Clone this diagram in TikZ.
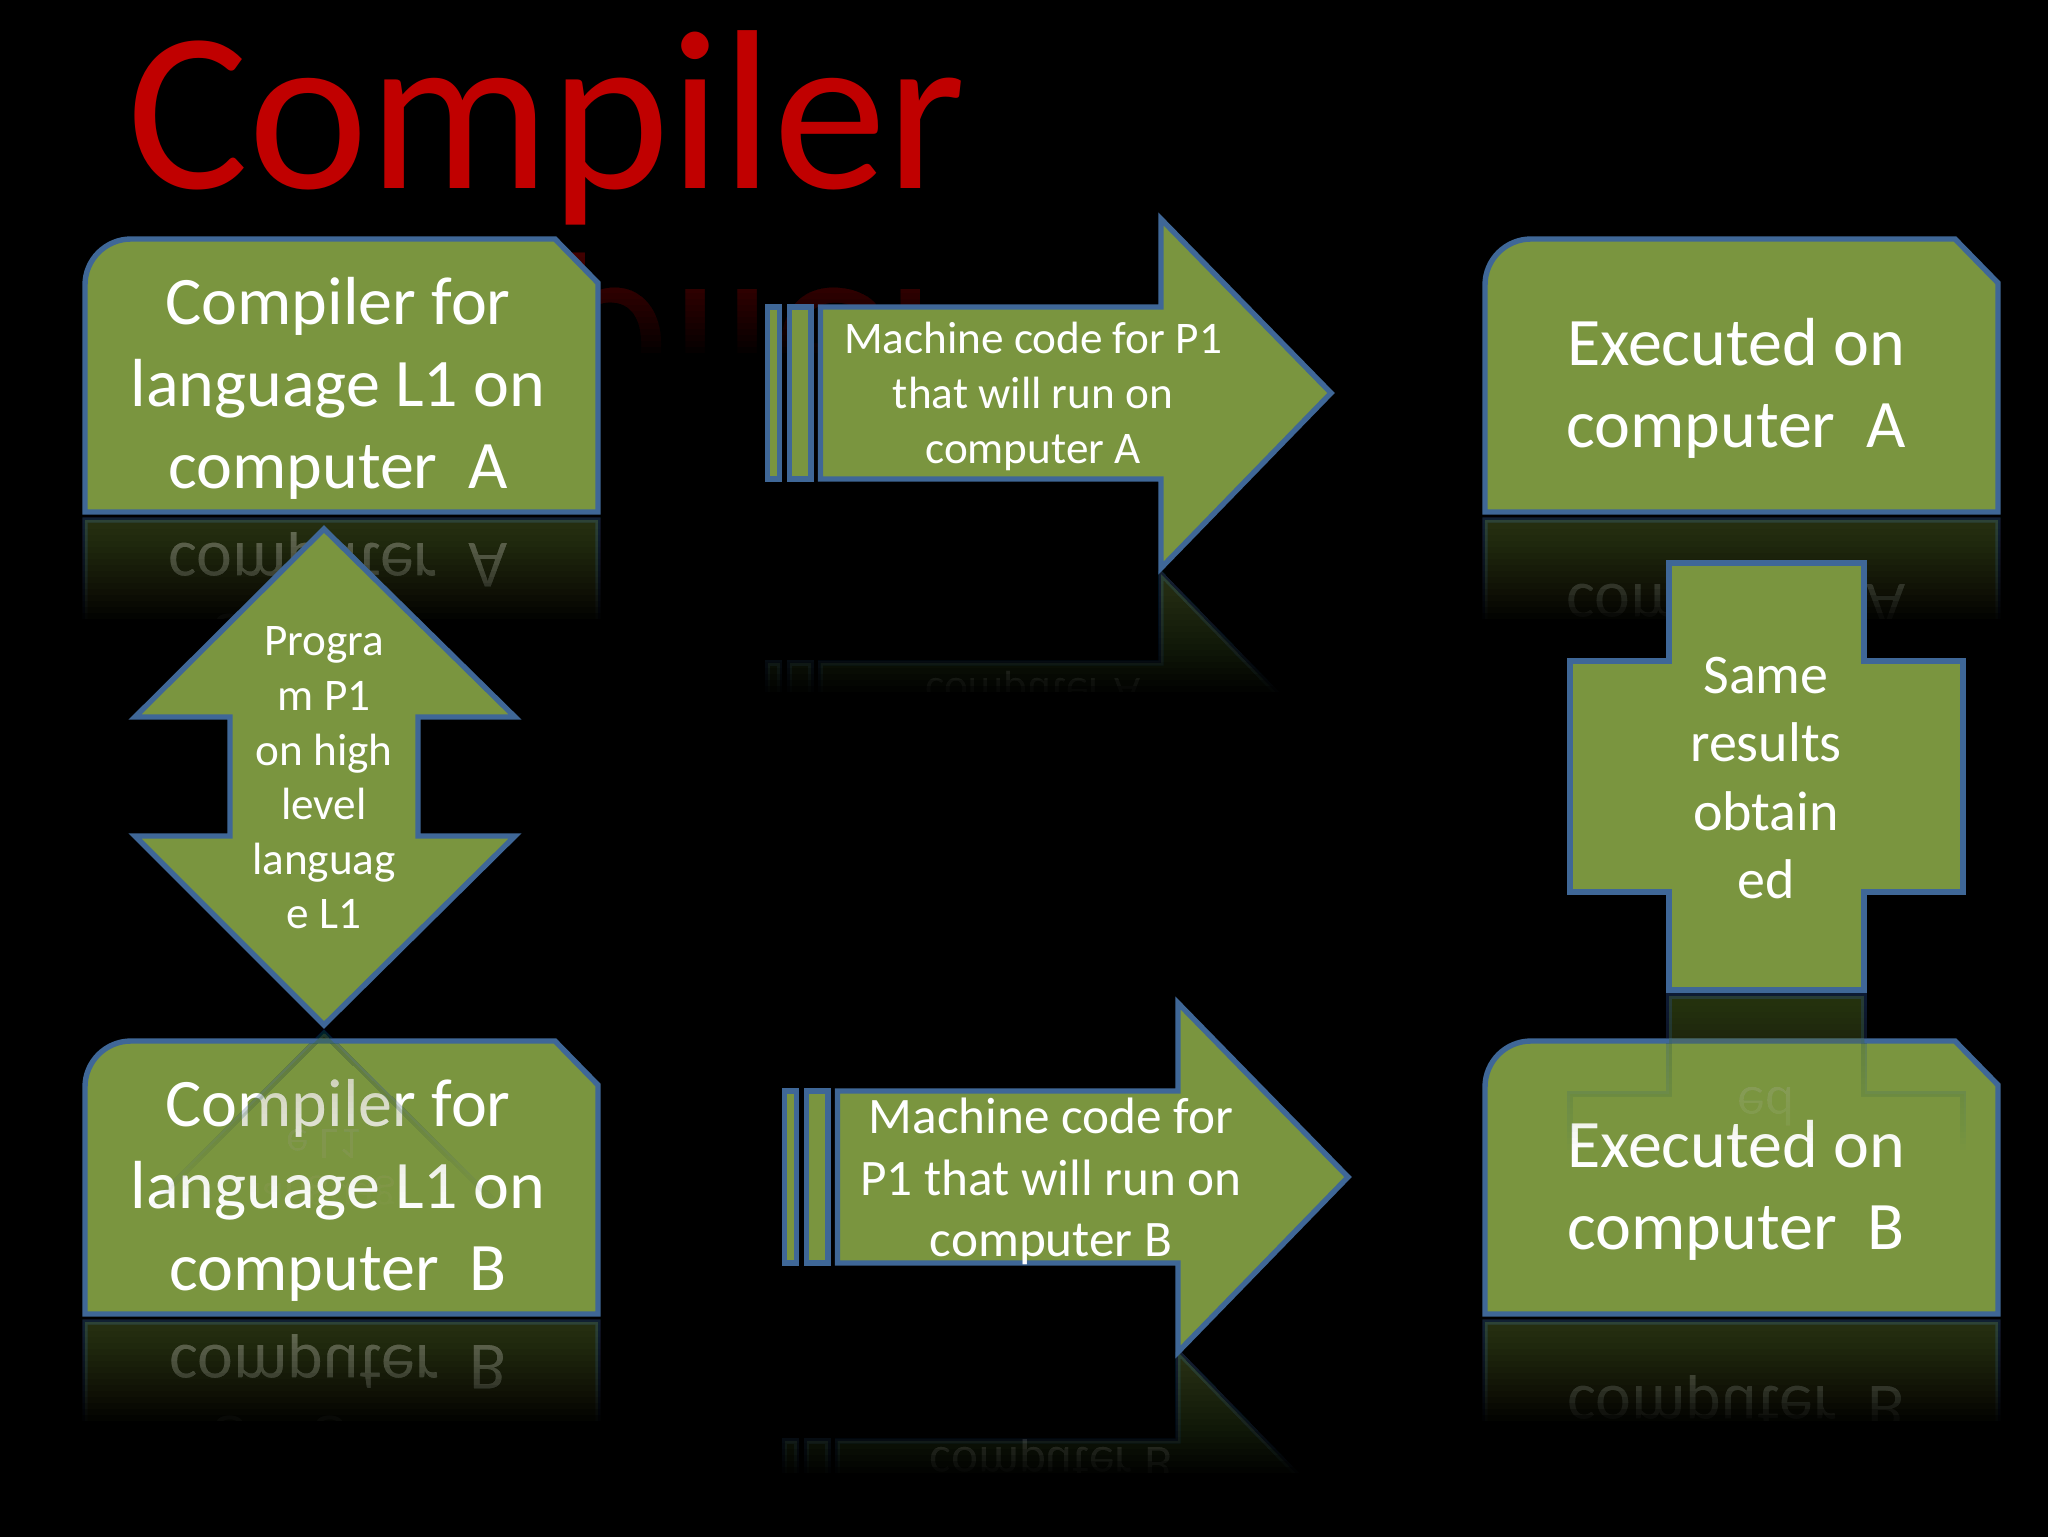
\documentclass[tikz,border=0pt]{standalone}
\usepackage{fontspec}
\setmainfont{Carlito}
\definecolor{gfill}{HTML}{7A953F}
\definecolor{gline}{HTML}{3F6797}
\definecolor{titlered}{HTML}{C00000}
\tikzset{
  shp/.style={fill=gfill, draw=gline, line width=2.7pt, line join=miter},
  bigtext/.style={text=white, align=center, font=\fontsize{34}{41}\selectfont},
  midtext/.style={text=white, align=center, font=\fontsize{28}{34.3}\selectfont},
  arrowtwo/.style={text=white, align=center, font=\fontsize{25.6}{30.8}\selectfont},
  smalltext/.style={text=white, align=center, font=\fontsize{22.6}{27.3}\selectfont},
}
\def\pfx{}
\newcommand\greenbox[5]{% name, left, top, text x, text
  \draw[shp] (#2+46,#3) -- (#2+470,#3) -- (#2+513,#3+44) -- (#2+513,#3+273) -- (#2,#3+273) -- (#2,#3+46)
     arc[start angle=180, end angle=270, x radius=46, y radius=46] -- cycle;
  \node[bigtext] (\pfx#1) at (#4,#3+149) {#5};
}
\newcommand\rightarrowshape[4]{% name, dx, dy, text node
  \draw[shp] (#2+767.5,#3+307) rectangle (#2+779.5,#3+479);
  \draw[shp] (#2+789.5,#3+307) rectangle (#2+811,#3+479);
  \draw[shp] (#2+820.5,#3+307) -- (#2+1161,#3+307) -- (#2+1161,#3+219) -- (#2+1331,#3+393)
     -- (#2+1161,#3+568) -- (#2+1161,#3+479) -- (#2+820.5,#3+479) -- cycle;
  #4
}
\newcommand\titletext{\node[text=titlered, font=\fontsize{113.7}{130}\selectfont, anchor=base west, inner sep=0pt] (\pfx title) at (127,188) {Compiler};}
\newcommand\boxA{\greenbox{ca}{85}{239}{338}{Compiler for\\language L1 on\\computer\ \ A}}
\newcommand\boxB{\greenbox{cb}{85}{1041}{338}{Compiler for\\language L1 on\\computer\ \ B}}
\newcommand\boxC{\greenbox{ea}{1485}{239}{1736}{Executed on\\computer\ \ A}}
\newcommand\boxD{\greenbox{eb}{1485}{1041}{1736}{Executed on\\computer\ \ B}}
\newcommand\arrowA{\rightarrowshape{ma}{0}{0}{\node[smalltext] (\pfx ma) at (1033,396.5) {Machine code for P1\\that will run on\\computer A};}}
\newcommand\arrowB{\rightarrowshape{mb}{17}{784}{\node[arrowtwo] (\pfx mb) at (1051,1181.5) {Machine code for\\P1 that will run on\\computer B};}}
\newcommand\dblarrow{
  \draw[shp] (324,529) -- (515,717) -- (418,717) -- (418,836) -- (515,836) -- (324,1025)
     -- (135,836) -- (230,836) -- (230,717) -- (135,717) -- cycle;
  \node[smalltext] (\pfx prog) at (324,778) {Progra\\m P1\\on high\\level\\languag\\e L1};
}
\newcommand\plusshape{
  \draw[shp] (1669,563) -- (1864,563) -- (1864,661) -- (1963,661) -- (1963,892) -- (1864,892)
     -- (1864,990) -- (1669,990) -- (1669,892) -- (1570,892) -- (1570,661) -- (1669,661) -- cycle;
  \node[midtext] (\pfx same) at (1766,778) {Same\\results\\obtain\\ed};
}
% mirror image below axis #1: #2 stacked layers, 6px apart, start opacity #3, drawing #4
\newcommand\reflected[4]{%
  \pgfmathsetmacro\op{1.1*#3/#2}
  \foreach \i in {1,...,#2}{
    \pgfmathsetmacro\yb{#1+\i*6}
    \begin{scope}
      \clip (0,#1) rectangle (2048,\yb);
      \begin{scope}[opacity=\op, shift={(0,2*#1)}, yscale=-1, every node/.append style={transform shape}]
        \def\pfx{r}
        #4
      \end{scope}
    \end{scope}
  }
}
\begin{document}
\begin{tikzpicture}[x=0.5pt, y=-0.5pt]
  \useasboundingbox (0,0) rectangle (2048,1536);
  \fill[black] (-4,-4) rectangle (2052,1540);
  \reflected{238.5}{19}{0.45}{\titletext}
  \titletext
  \reflected{516}{17}{0.42}{\boxA}
  \boxA
  \reflected{516}{17}{0.42}{\boxC}
  \boxC
  \reflected{1318}{17}{0.42}{\boxB}
  \boxB
  \reflected{1318}{17}{0.42}{\boxD}
  \boxD
  \reflected{571}{20}{0.42}{\arrowA}
  \arrowA
  \reflected{1352}{20}{0.42}{\arrowB}
  \arrowB
  \reflected{1029}{30}{0.42}{\dblarrow}
  \dblarrow
  \reflected{993}{26}{0.42}{\plusshape}
  \plusshape
\end{tikzpicture}
\end{document}
